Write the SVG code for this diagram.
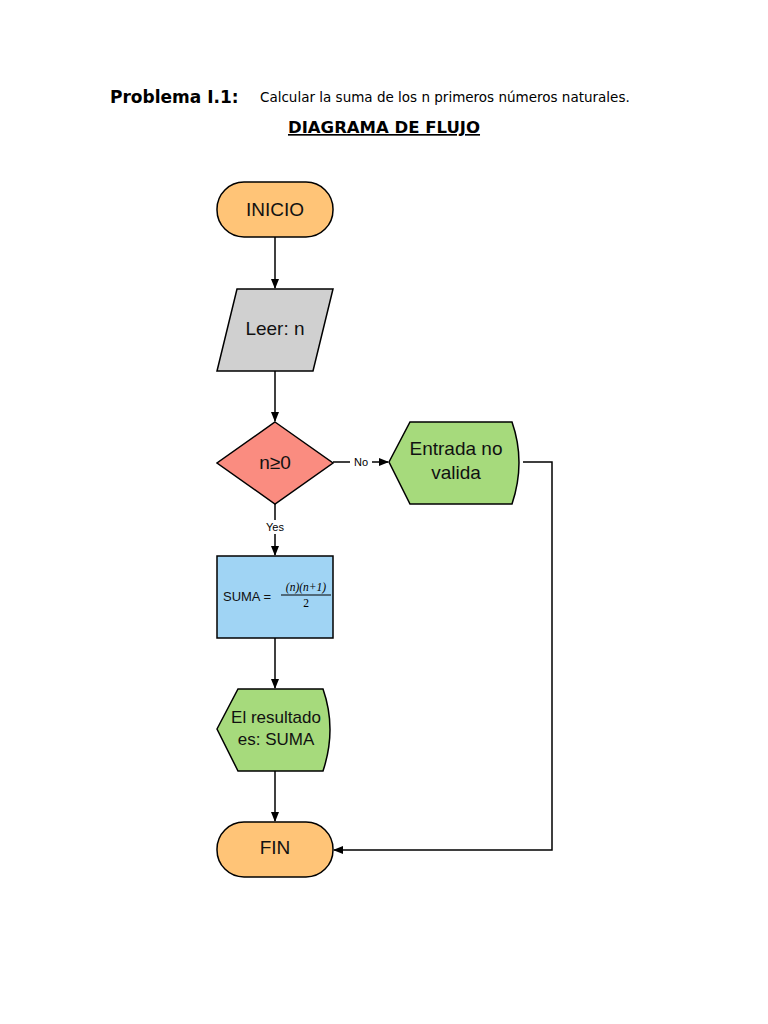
<svg xmlns="http://www.w3.org/2000/svg" width="768" height="1024" viewBox="0 0 768 1024">
<style>
.s{stroke:#000;stroke-width:1.5}
.t{font-family:"Liberation Sans",Arial,sans-serif;fill:#111;text-anchor:middle}
.c{fill:none;stroke:#000;stroke-width:1.5}
.h{font-family:"DejaVu Sans",sans-serif;fill:#000}
</style>
<defs><marker id="a" markerWidth="10" markerHeight="10" refX="9" refY="5" orient="auto" markerUnits="userSpaceOnUse"><path d="M0,1 L10,5 L0,9 Z" fill="#000"/></marker></defs>
<rect width="768" height="1024" fill="#fff"/>
<text class="h" x="110" y="103" font-size="17" font-weight="bold">Problema I.1:</text>
<text class="h" x="260" y="102" font-size="13.5">Calcular la suma de los n primeros números naturales.</text>
<text class="h" x="384" y="133" font-size="16.5" font-weight="bold" text-anchor="middle" text-decoration="underline">DIAGRAMA DE FLUJO</text>
<g id="inicio"><rect class="s" x="217" y="182" width="116" height="55" rx="27" fill="#ffc477"/><text class="t" x="275" y="216" font-size="19">INICIO</text></g>
<g id="leer"><polygon class="s" points="237,289 333,289 313,371 217,371" fill="#d0d0d0"/><text class="t" x="275" y="335" font-size="19">Leer:  n</text></g>
<g id="decision"><polygon class="s" points="275,422 333,463 275,504 217,463" fill="#fa8c80"/><text class="t" x="275" y="469" font-size="19">n≥0</text></g>
<g id="entrada"><path class="s" d="M389,462 L410,422 L512,422 Q526,462 512,504 L410,504 Z" fill="#a6da7c"/><text class="t" x="456" y="455" font-size="19">Entrada no</text><text class="t" x="456" y="479" font-size="19">valida</text></g>
<g id="suma"><rect class="s" x="217" y="556" width="116" height="82" fill="#a0d4f4"/><text class="t" x="247" y="601" font-size="13">SUMA =</text><text x="306" y="591" font-size="11.5" font-family="Liberation Serif,serif" text-anchor="middle" font-style="italic">(n)(n+1)</text><line x1="281" y1="595" x2="331" y2="595" stroke="#000" stroke-width="1"/><text x="306" y="607" font-size="11.5" font-family="Liberation Serif,serif" text-anchor="middle">2</text></g>
<g id="resultado"><path class="s" d="M217,729 L238,689 L323,689 Q337,729 323,771 L238,771 Z" fill="#a6da7c"/><text class="t" x="276" y="723" font-size="17">El resultado</text><text class="t" x="276" y="745" font-size="17">es: SUMA</text></g>
<g id="fin"><rect class="s" x="217" y="822" width="116" height="55" rx="27" fill="#ffc477"/><text class="t" x="275" y="854" font-size="19">FIN</text></g>
<g id="connectors">
<line class="c" x1="275" y1="237" x2="275" y2="288" marker-end="url(#a)"/>
<line class="c" x1="275" y1="371" x2="275" y2="421" marker-end="url(#a)"/>
<line class="c" x1="275" y1="504" x2="275" y2="555" marker-end="url(#a)"/>
<line class="c" x1="275" y1="638" x2="275" y2="688" marker-end="url(#a)"/>
<line class="c" x1="275" y1="771" x2="275" y2="821" marker-end="url(#a)"/>
<line class="c" x1="333" y1="462" x2="388" y2="462" marker-end="url(#a)"/>
<polyline class="c" points="523,462 552,462 552,850 334,850" marker-end="url(#a)"/>
<rect x="350" y="455" width="22" height="14" fill="#fff"/><text x="361" y="466" font-size="11" font-family="Liberation Sans,sans-serif" text-anchor="middle">No</text>
<rect x="262" y="520" width="26" height="14" fill="#fff"/><text x="275" y="531" font-size="11" font-family="Liberation Sans,sans-serif" text-anchor="middle">Yes</text>
</g>
</svg>
